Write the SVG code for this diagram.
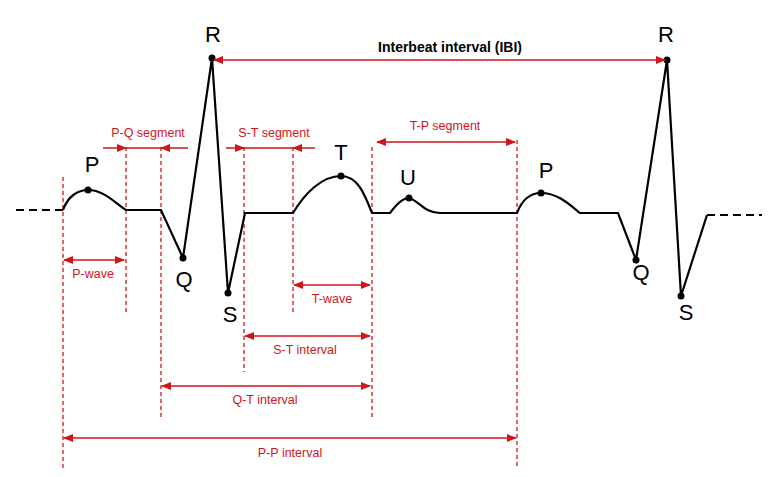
<svg xmlns="http://www.w3.org/2000/svg" width="768" height="477" viewBox="0 0 768 477">
<style>
.w{fill:none;stroke:#000;stroke-width:2.2;stroke-linejoin:miter}
.d{fill:none;stroke:#000;stroke-width:2.2;stroke-dasharray:8 5}
.v{stroke:#d0151b;stroke-width:1.3;stroke-dasharray:4 3}
.a{stroke:#d0151b;stroke-width:1.5;fill:none}
.lb{font-family:"Liberation Sans",Arial,sans-serif;font-size:22px;fill:#000;text-anchor:middle}
.rl{font-family:"Liberation Sans",Arial,sans-serif;font-size:12.5px;fill:#d0151b;text-anchor:middle}
</style>
<defs>
<marker id="ah" viewBox="0 0 10 10" refX="9" refY="5" markerWidth="10" markerHeight="10" markerUnits="userSpaceOnUse" orient="auto-start-reverse"><path d="M0,1 L10,5 L0,9 z" fill="#d0151b"/></marker>
</defs>
<rect width="768" height="477" fill="#fff"/>
<g id="guides">
<line class="v" x1="63" y1="177" x2="63" y2="468"/>
<line class="v" x1="126" y1="147" x2="126" y2="312"/>
<line class="v" x1="161" y1="147" x2="161" y2="420"/>
<line class="v" x1="244" y1="147" x2="244" y2="372"/>
<line class="v" x1="293" y1="147" x2="293" y2="312"/>
<line class="v" x1="372" y1="147" x2="372" y2="420"/>
<line class="v" x1="517" y1="140" x2="517" y2="468"/>
</g>
<g id="waveform">
<path class="d" d="M16,210 H63"/>
<path class="w" d="M63,210 C68,196 78,190 88,190 C104,190 115,203 126,210 H161 L183,258 L212,58 L228,293 L245,213 H293 C305,193 322,176 341,176 C358,176 365,195 372,213 H390 C396,205 402,198 409,198 C418,200 424,213 440,213 H517 C522,200 530,193 541,193 C558,193 570,205 580,213 H618 L636,260 L667,60 L681,296 L707,215"/>
<path class="d" d="M707,215 H762"/>
<g fill="#000">
<circle cx="88" cy="190" r="3.5"/><circle cx="183" cy="258" r="3.5"/><circle cx="212" cy="58" r="3.5"/><circle cx="228" cy="293" r="3.5"/>
<circle cx="341" cy="176" r="3.5"/><circle cx="409" cy="198" r="3.5"/><circle cx="541" cy="193" r="3.5"/><circle cx="636" cy="260" r="3.5"/><circle cx="667" cy="60" r="3.5"/><circle cx="681" cy="296" r="3.5"/>
</g>
</g>
<g id="wave-labels">
<text class="lb" x="92" y="172">P</text><text class="lb" x="184" y="287">Q</text><text class="lb" x="213" y="42">R</text><text class="lb" x="230" y="322">S</text>
<text class="lb" x="341" y="160">T</text><text class="lb" x="408" y="185">U</text><text class="lb" x="546" y="178">P</text><text class="lb" x="641" y="280">Q</text><text class="lb" x="666" y="42">R</text><text class="lb" x="686" y="320">S</text>
</g>
<g id="connectors">
<line class="a" x1="103" y1="148" x2="126" y2="148" marker-end="url(#ah)"/>
<line class="a" x1="126" y1="148" x2="161" y2="148"/>
<line class="a" x1="188" y1="148" x2="161" y2="148" marker-end="url(#ah)"/>
<line class="a" x1="226" y1="148" x2="244" y2="148" marker-end="url(#ah)"/>
<line class="a" x1="244" y1="148" x2="293" y2="148"/>
<line class="a" x1="315" y1="148" x2="293" y2="148" marker-end="url(#ah)"/>
<line class="a" x1="64" y1="260" x2="124" y2="260" marker-start="url(#ah)" marker-end="url(#ah)"/>
<line class="a" x1="294" y1="285" x2="370" y2="285" marker-start="url(#ah)" marker-end="url(#ah)"/>
<line class="a" x1="245" y1="336" x2="370" y2="336" marker-start="url(#ah)" marker-end="url(#ah)"/>
<line class="a" x1="162" y1="386" x2="370" y2="386" marker-start="url(#ah)" marker-end="url(#ah)"/>
<line class="a" x1="64" y1="438" x2="516" y2="438" marker-start="url(#ah)" marker-end="url(#ah)"/>
<line class="a" x1="377" y1="142" x2="515" y2="142" marker-start="url(#ah)" marker-end="url(#ah)"/>
<line class="a" x1="214" y1="60" x2="665" y2="60" marker-start="url(#ah)" marker-end="url(#ah)"/>
</g>
<g id="interval-labels">
<text class="rl" x="148" y="137">P-Q segment</text>
<text class="rl" x="274" y="137">S-T segment</text>
<text class="rl" x="445" y="130">T-P segment</text>
<text class="rl" x="93" y="278">P-wave</text>
<text class="rl" x="332" y="303">T-wave</text>
<text class="rl" x="305" y="354">S-T interval</text>
<text class="rl" x="265" y="404">Q-T interval</text>
<text class="rl" x="290" y="457">P-P interval</text>
<text x="450" y="52" font-family="Liberation Sans,Arial,sans-serif" font-size="14" font-weight="bold" text-anchor="middle">Interbeat interval (IBI)</text>
</g>
</svg>
